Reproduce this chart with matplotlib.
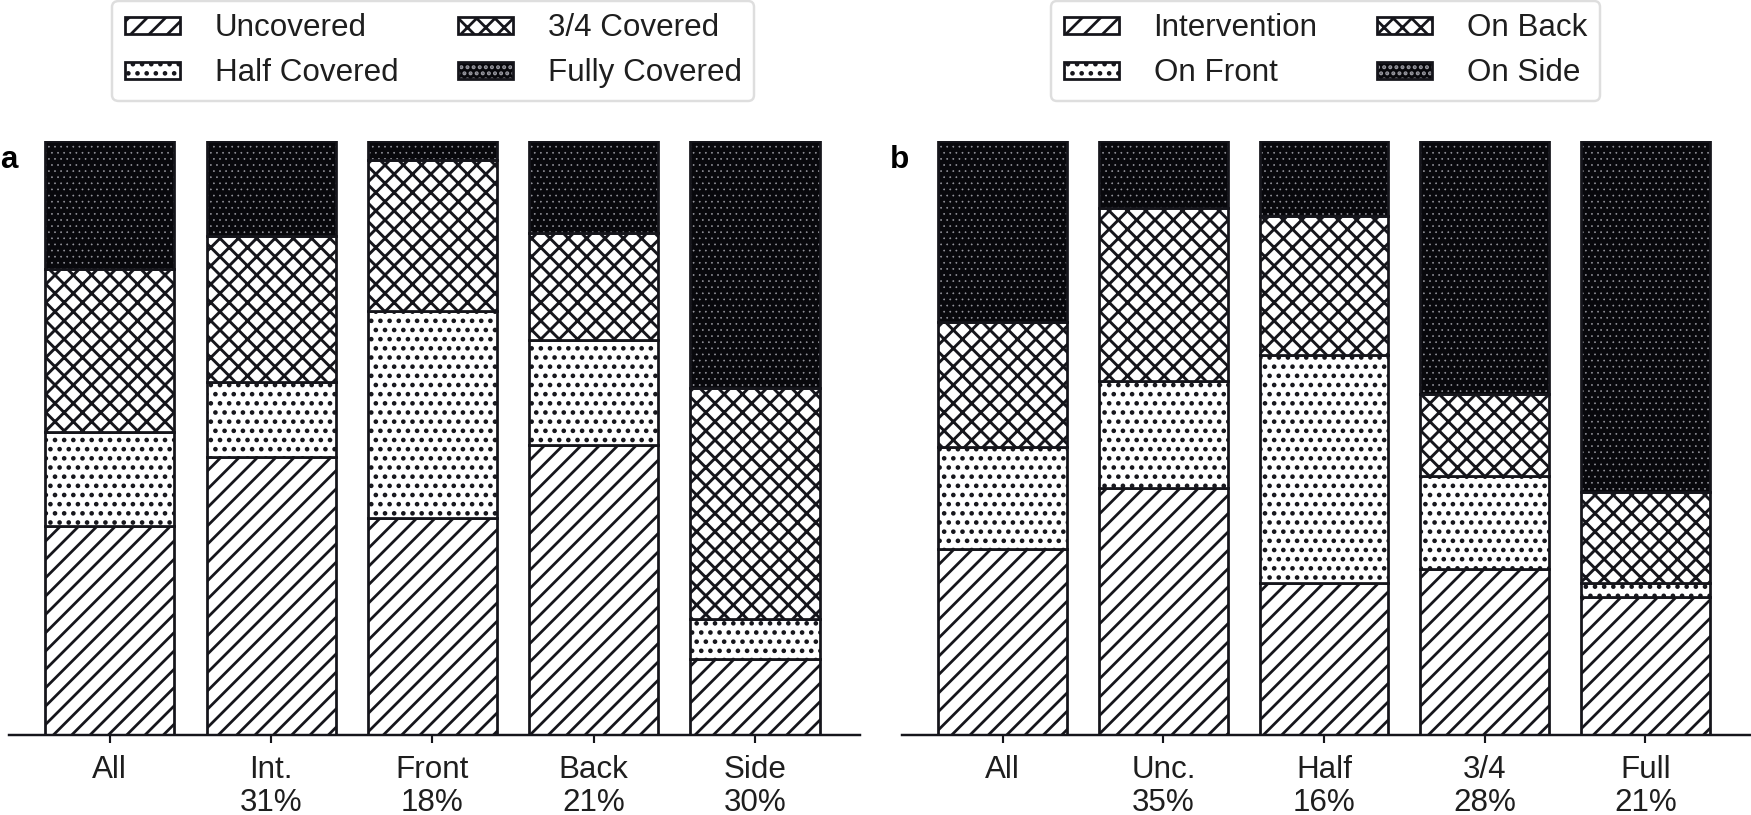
import numpy as np
import matplotlib
matplotlib.use('Agg')
import matplotlib.pyplot as plt
from matplotlib.patches import Patch

plt.rcParams['font.family'] = ['Liberation Sans', 'DejaVu Sans']
plt.rcParams['hatch.linewidth'] = 1.8

# panel a: share of each cover state per sleep position
pos_labels = ['All', 'Int.\n31%', 'Front\n18%', 'Back\n21%', 'Side\n30%']
uncovered = [0.351, 0.468, 0.365, 0.487, 0.128]
half_cov = [0.158, 0.126, 0.349, 0.177, 0.066]
three_q = [0.275, 0.246, 0.254, 0.180, 0.389]
fully = [0.216, 0.160, 0.032, 0.156, 0.417]
cover_names = ['Uncovered', 'Half Covered', '3/4 Covered', 'Fully Covered']

# panel b: share of each position per cover state
cov_labels = ['All', 'Unc.\n35%', 'Half\n16%', '3/4\n28%', 'Full\n21%']
intervention = [0.312, 0.415, 0.256, 0.278, 0.231]
on_front = [0.173, 0.181, 0.383, 0.158, 0.025]
on_back = [0.209, 0.291, 0.235, 0.137, 0.152]
on_side = [0.306, 0.113, 0.126, 0.427, 0.592]
pos_names = ['Intervention', 'On Front', 'On Back', 'On Side']

EDGE = '#15151b'
DARK = '#08080c'
DOTS = '#9a9aa2'
DPI = 110
# layout measured on a 1568x730 view of the target
VW, VH = 1568, 730
FS = 20.5

fig = plt.figure(figsize=(1751 / DPI, 815 / DPI), dpi=DPI)
ax_a = fig.add_axes([8 / VW, 1 - 658 / VH, (770 - 8) / VW, 532 / VH])
ax_b = fig.add_axes([808 / VW, 1 - 658 / VH, (1567 - 808) / VW, 532 / VH])

hatches = ['//', '..', 'xx']
hatch_lw = [1.8, 1.8, 1.9]


def set_hlw(p, lw):
    if hasattr(p, 'set_hatch_linewidth'):
        p.set_hatch_linewidth(lw)


def stacked(ax, labels, series):
    x = np.arange(len(labels))
    bottom = np.zeros(len(labels))
    for i, vals in enumerate(series):
        vals = np.array(vals)
        if i == 3:
            bars = ax.bar(x, vals, 0.8, bottom=bottom, color=DARK, edgecolor=DOTS,
                          hatch='...', linewidth=0)
            for p in bars:
                set_hlw(p, 0.35)
            ax.bar(x, vals, 0.8, bottom=bottom, color='none', edgecolor=EDGE,
                   linewidth=1.8)
        else:
            bars = ax.bar(x, vals, 0.8, bottom=bottom, color='white', edgecolor=EDGE,
                          hatch=hatches[i], linewidth=1.8)
            for p in bars:
                set_hlw(p, hatch_lw[i])
        bottom += vals
    ax.set_xlim(-0.625, 4.65)
    ax.set_ylim(0, 1)
    ax.set_xticks(x)
    ax.set_xticklabels(labels, fontsize=FS, color='#1e1e1e', linespacing=1.13)
    ax.set_yticks([])
    for s in ['top', 'right', 'left']:
        ax.spines[s].set_visible(False)
    ax.spines['bottom'].set_linewidth(1.6)
    ax.spines['bottom'].set_color(EDGE)
    ax.tick_params(axis='x', length=5, width=1.4, color=EDGE, pad=8.5)


def handles():
    h = []
    for i in range(3):
        p = Patch(facecolor='white', edgecolor=EDGE, hatch=hatches[i], linewidth=1.8)
        set_hlw(p, hatch_lw[i])
        h.append(p)
    d = Patch(facecolor=DARK, edgecolor=DOTS, hatch='...', linewidth=0)
    set_hlw(d, 0.35)
    h.append((d, Patch(facecolor='none', edgecolor=EDGE, linewidth=1.8)))
    return h


stacked(ax_a, pos_labels, [uncovered, half_cov, three_q, fully])
stacked(ax_b, cov_labels, [intervention, on_front, on_back, on_side])

for names, cx in [(cover_names, 388 / VW), (pos_names, 1187 / VW)]:
    leg = fig.legend(handles(), names, ncol=2,
                     loc='upper center', bbox_to_anchor=(cx, 0.999), fontsize=FS,
                     handlelength=1.75, handleheight=0.45, handletextpad=1.12,
                     columnspacing=1.9, labelspacing=0.48, borderpad=0.4,
                     borderaxespad=0.0, frameon=True, fancybox=True,
                     edgecolor='#d6d6d6')
    leg.get_frame().set_linewidth(1.6)
    for t in leg.get_texts():
        t.set_color('#1e1e1e')

fig.text(0.0, 1 - 143 / VH, 'a', fontsize=FS, fontweight='bold', va='center', ha='left')
fig.text(797 / VW, 1 - 143 / VH, 'b', fontsize=FS, fontweight='bold', va='center', ha='left')

fig.savefig('out.png', dpi=DPI)
